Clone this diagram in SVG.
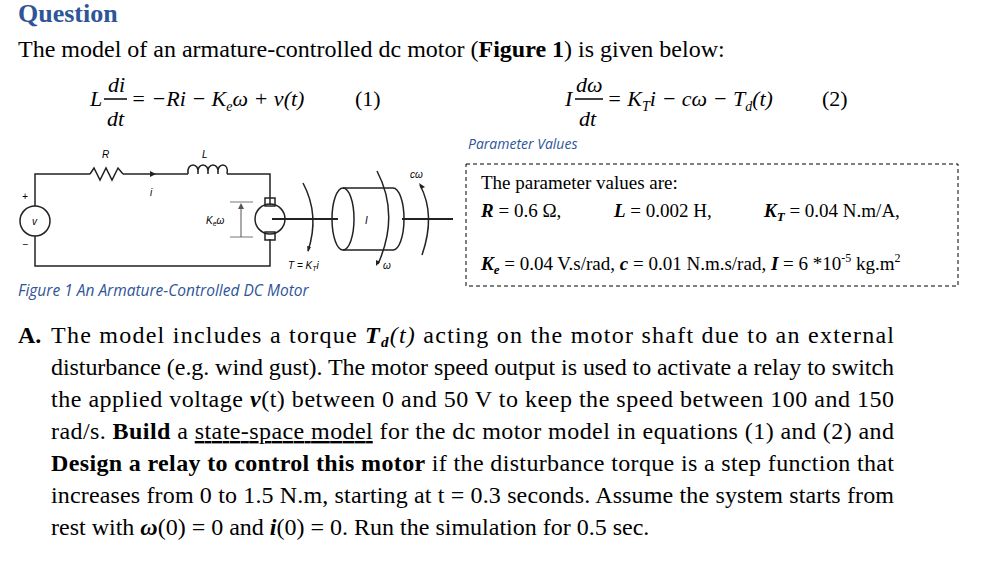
<svg xmlns="http://www.w3.org/2000/svg" width="1005" height="577" viewBox="0 0 1005 577">
<style>
.s{font-family:"Liberation Serif",serif;font-size:24px;fill:#000}
.p{font-family:"Liberation Serif",serif;font-size:19px;fill:#000}
.m{font-family:"Liberation Serif",serif;font-style:italic;font-size:22px}
.n{font-family:"Liberation Serif",serif;font-size:22px}
.c{font-family:"Liberation Sans",Arial,sans-serif;font-style:italic;font-size:10px}
.w{fill:none;stroke:#222;stroke-width:1.5}
.cal{font-family:"Open Sans","Liberation Sans",sans-serif;font-style:italic;fill:#2e5597}
</style>
<rect width="1005" height="577" fill="#fff"/>
<text x="18" y="22" font-family="Liberation Serif,serif" font-weight="bold" font-size="26" fill="#2e5597">Question</text>
<text class="s" x="18" y="57">The model of an armature-controlled dc motor (<tspan font-weight="bold">Figure 1</tspan>) is given below:</text>
<g id="eq1">
<text class="m" x="90" y="106">L</text>
<text class="m" x="108" y="92">di</text>
<line x1="104" y1="99" x2="127" y2="99" stroke="#000" stroke-width="1.5"/>
<text class="m" x="107" y="126">dt</text>
<text class="m" x="131" y="106">= −Ri − K<tspan font-size="14" dy="5">e</tspan><tspan dy="-5">ω + v(t)</tspan></text>
<text class="n" x="355" y="106">(1)</text>
</g>
<g id="eq2">
<text class="m" x="565" y="106">I</text>
<text class="m" x="576" y="92">dω</text>
<line x1="575" y1="99" x2="603" y2="99" stroke="#000" stroke-width="1.5"/>
<text class="m" x="579" y="126">dt</text>
<text class="m" x="607" y="106">= K<tspan font-size="14" dy="5">T</tspan><tspan dy="-5">i − cω − T</tspan><tspan font-size="14" dy="5">d</tspan><tspan dy="-5">(t)</tspan></text>
<text class="n" x="822" y="106">(2)</text>
</g>
<text class="cal" x="468" y="149" font-size="14">Parameter Values</text>
<g id="params">
<rect x="466" y="164" width="492" height="122" fill="none" stroke="#000" stroke-dasharray="4,3"/>
<text class="p" x="481" y="189">The parameter values are:</text>
<text class="p" x="481" y="217"><tspan font-weight="bold" font-style="italic">R</tspan> = 0.6 Ω,</text>
<text class="p" x="614" y="217"><tspan font-weight="bold" font-style="italic">L</tspan> = 0.002 H,</text>
<text class="p" x="764" y="217"><tspan font-weight="bold" font-style="italic">K<tspan font-size="13" dy="4">T</tspan></tspan><tspan dy="-4"> = 0.04 N.m/A,</tspan></text>
<text class="p" x="481" y="270"><tspan font-weight="bold" font-style="italic">K<tspan font-size="13" dy="4">e</tspan></tspan><tspan dy="-4"> = 0.04 V.s/rad, </tspan><tspan font-weight="bold" font-style="italic">c</tspan> = 0.01 N.m.s/rad, <tspan font-weight="bold" font-style="italic">I</tspan> = 6 *10<tspan font-size="12" dy="-8">-5</tspan><tspan dy="8"> kg.m</tspan><tspan font-size="12" dy="-8">2</tspan></text>
</g>
<g id="circuit">
<polyline class="w" points="270,205 270,174 227,174"/>
<path class="w" d="M188,174 c-2,-12 12,-12 10,0 c-2,-12 12,-12 10,0 c-2,-12 12,-12 10,0 c-2,-12 12,-12 9,0"/>
<line class="w" x1="123" y1="174" x2="188" y2="174"/>
<polyline class="w" points="90,174 94,168 100,180 106,168 112,180 118,168 123,174"/>
<polyline class="w" points="90,174 35,174 35,206"/>
<polyline class="w" points="35,236 35,266 270,266 270,239"/>
<circle class="w" cx="35" cy="221" r="15"/>
<text class="c" x="32" y="225">v</text>
<text class="c" x="22" y="200">+</text>
<text class="c" x="22" y="248">−</text>
<text class="c" x="102" y="158">R</text>
<text class="c" x="202" y="158">L</text>
<text class="c" x="150" y="196">i</text>
<path d="M156,174 l-6,-3 v6z" fill="#222"/>
<rect x="265" y="198" width="10" height="8" class="w" fill="#fff"/>
<rect x="265" y="232" width="10" height="8" class="w" fill="#fff"/>
<circle class="w" cx="270" cy="219" r="15" fill="#fff"/>
<line x1="230" y1="202" x2="253" y2="202" stroke="#777"/>
<line x1="230" y1="237" x2="253" y2="237" stroke="#777"/>
<line x1="241" y1="237" x2="241" y2="206" stroke="#555"/>
<path d="M241,203 l-3,6 h6z" fill="#555"/>
<text class="c" x="206" y="224">K<tspan font-size="7" dy="2">e</tspan><tspan dy="-2">ω</tspan></text>
<line x1="272" y1="219" x2="338" y2="219" stroke="#222" stroke-width="2"/>
<path class="w" d="M343,188 H393 M343,250 H393"/>
<ellipse class="w" cx="343" cy="219" rx="11" ry="31" fill="#fff"/>
<path class="w" d="M393,188 A11,31 0 0 1 393,250"/>
<line x1="402" y1="219" x2="453" y2="219" stroke="#222" stroke-width="2"/>
<text class="c" x="365" y="224">I</text>
<path class="w" d="M303,183 Q320,215 308,251" stroke-width="1"/>
<path d="M308,252 l-1,-6 4,1z" fill="#222"/>
<text class="c" x="288" y="269">T = K<tspan font-size="7" dy="2">T</tspan><tspan dy="-2">i</tspan></text>
<path class="w" d="M377,171 Q400,215 378,264" stroke-width="1"/>
<path d="M376,266 l0,-6 4,2z" fill="#222"/>
<text class="c" x="383" y="269">ω</text>
<path class="w" d="M420,185 Q436,215 422,255" stroke-width="1"/>
<path d="M419,183 l6,4 -4,2z" fill="#222"/>
<text class="c" x="410" y="178">cω</text>
</g>
<text class="cal" x="18" y="296" font-size="15.5">Figure 1 An Armature-Controlled DC Motor</text>
<g id="partA" class="s">
<text x="18" y="343"><tspan font-weight="bold">A.</tspan></text>
<text x="51" y="343" textLength="843" lengthAdjust="spacing">The model includes a torque <tspan font-weight="bold" font-style="italic">T<tspan font-size="15" dy="4">d</tspan></tspan><tspan font-style="italic" dy="-4">(t)</tspan> acting on the motor shaft due to an external</text>
<text x="51" y="375" textLength="843" lengthAdjust="spacing">disturbance (e.g. wind gust). The motor speed output is used to activate a relay to switch</text>
<text x="51" y="407" textLength="843" lengthAdjust="spacing">the applied voltage <tspan font-weight="bold" font-style="italic">v</tspan>(t) between 0 and 50 V to keep the speed between 100 and 150</text>
<text x="51" y="439" textLength="843" lengthAdjust="spacing">rad/s. <tspan font-weight="bold">Build</tspan> a <tspan text-decoration="underline">state-space model</tspan> for the dc motor model in equations (1) and (2) and</text>
<text x="51" y="471" textLength="843" lengthAdjust="spacing"><tspan font-weight="bold">Design a relay to control this motor</tspan> if the disturbance torque is a step function that</text>
<text x="51" y="503" textLength="843" lengthAdjust="spacing">increases from 0 to 1.5 N.m, starting at t = 0.3 seconds. Assume the system starts from</text>
<text x="51" y="535">rest with <tspan font-weight="bold" font-style="italic">ω</tspan>(0) = 0 and <tspan font-weight="bold" font-style="italic">i</tspan>(0) = 0. Run the simulation for 0.5 sec.</text>
</g>
</svg>
